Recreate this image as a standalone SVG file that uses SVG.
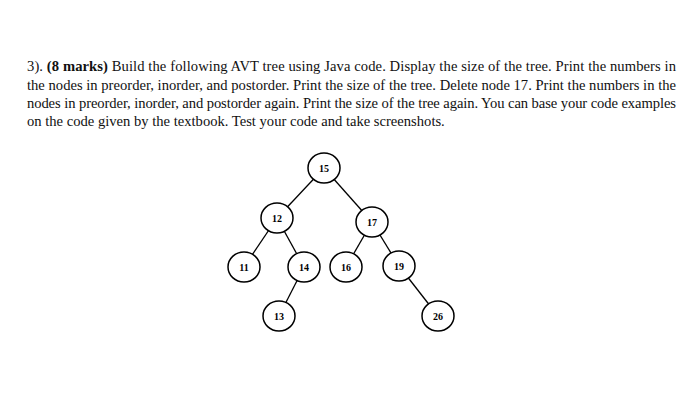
<svg xmlns="http://www.w3.org/2000/svg" width="685" height="407" viewBox="0 0 685 407">
<style>
.t{font-family:"Liberation Serif",serif;font-size:14.6px;fill:#111}
.n ellipse{fill:#fff;stroke:#000;stroke-width:1.5}
.n text{font-family:"Liberation Serif",serif;font-size:10px;font-weight:bold;text-anchor:middle;fill:#000}
.e line{stroke:#000;stroke-width:1.3}
</style>
<rect width="685" height="407" fill="#fff"/>
<text class="t" x="27" y="71" textLength="649" lengthAdjust="spacing">3). <tspan font-weight="bold">(8 marks)</tspan> Build the following AVT tree using Java code. Display the size of the tree. Print the numbers in</text>
<text class="t" x="27" y="90" textLength="649" lengthAdjust="spacing">the nodes in preorder, inorder, and postorder. Print the size of the tree. Delete node 17. Print the numbers in the</text>
<text class="t" x="27" y="108" textLength="649" lengthAdjust="spacing">nodes in preorder, inorder, and postorder again. Print the size of the tree again. You can base your code examples</text>
<text class="t" x="27" y="126">on the code given by the textbook. Test your code and take screenshots.</text>
<g class="e" id="edges">
<line x1="324" y1="168" x2="277" y2="218"/>
<line x1="324" y1="168" x2="372" y2="222"/>
<line x1="277" y1="218" x2="244" y2="267"/>
<line x1="277" y1="218" x2="304" y2="267"/>
<line x1="372" y1="222" x2="346" y2="267"/>
<line x1="372" y1="222" x2="399" y2="266"/>
<line x1="304" y1="267" x2="279" y2="316"/>
<line x1="399" y1="266" x2="438" y2="316"/>
</g>
<g class="n" id="n15"><ellipse cx="324" cy="168" rx="16" ry="15"/><text x="324" y="172">15</text></g>
<g class="n" id="n12"><ellipse cx="277" cy="218" rx="16" ry="15"/><text x="277" y="222">12</text></g>
<g class="n" id="n17"><ellipse cx="372" cy="222" rx="16" ry="15"/><text x="372" y="226">17</text></g>
<g class="n" id="n11"><ellipse cx="244" cy="267" rx="16" ry="15"/><text x="244" y="271">11</text></g>
<g class="n" id="n14"><ellipse cx="304" cy="267" rx="16" ry="15"/><text x="304" y="271">14</text></g>
<g class="n" id="n16"><ellipse cx="346" cy="267" rx="16" ry="15"/><text x="346" y="271">16</text></g>
<g class="n" id="n19"><ellipse cx="399" cy="266" rx="16" ry="15"/><text x="399" y="270">19</text></g>
<g class="n" id="n13"><ellipse cx="279" cy="316" rx="16" ry="15"/><text x="279" y="320">13</text></g>
<g class="n" id="n26"><ellipse cx="438" cy="316" rx="16" ry="15"/><text x="438" y="320">26</text></g>
</svg>
